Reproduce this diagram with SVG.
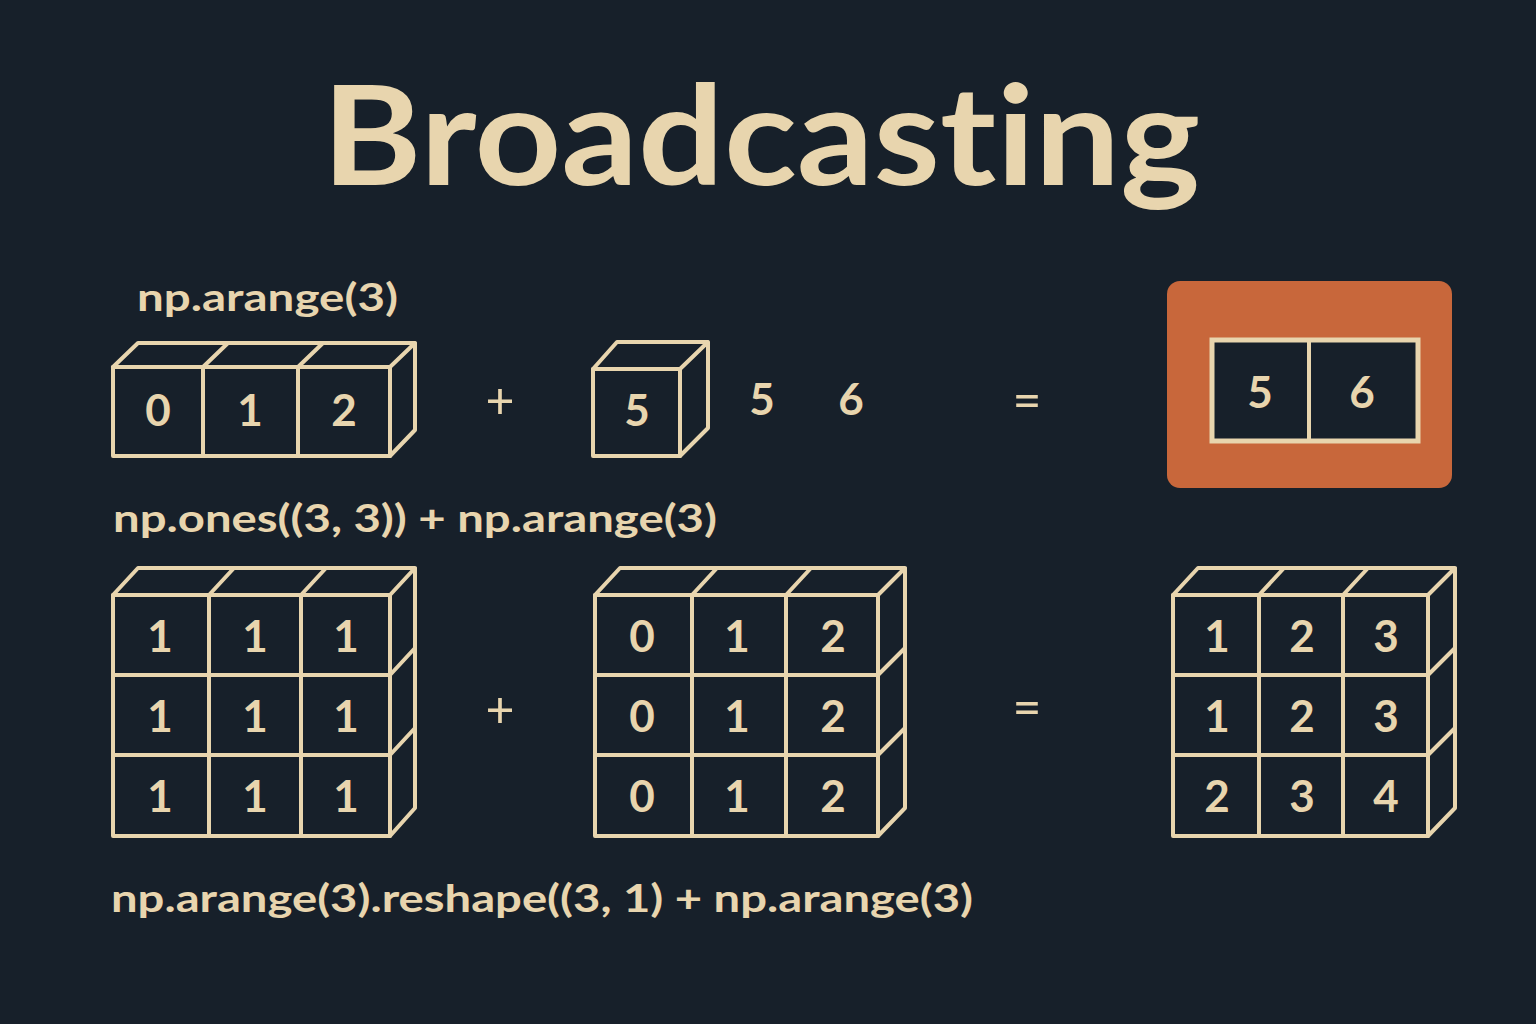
<svg xmlns="http://www.w3.org/2000/svg" width="1536" height="1024" viewBox="0 0 1536 1024">
<style>
.bg{fill:#17202a}
.ln{fill:none;stroke:#e8d5ae;stroke-width:4;stroke-linejoin:round;stroke-linecap:round}
.face{fill:#17202a;stroke:#e8d5ae;stroke-width:4;stroke-linejoin:round}
.t{font-family:Lato,"Open Sans","Liberation Sans",sans-serif;fill:#e8d5ae;font-variant-ligatures:none}
.d{font-family:Lato,"Open Sans","Liberation Sans",sans-serif;fill:#e8d5ae;font-size:44px;font-weight:700;text-anchor:middle}
.lbl{font-family:Lato,"Open Sans","Liberation Sans",sans-serif;fill:#e8d5ae;font-size:38px;font-weight:700}
.op{font-family:Lato,"Open Sans","Liberation Sans",sans-serif;fill:#e8d5ae;font-size:50px;font-weight:400;text-anchor:middle}
</style>
<rect class="bg" x="0" y="0" width="1536" height="1024"/>
<text class="t" x="761" y="185" font-size="138" font-weight="700" text-anchor="middle" textLength="878" lengthAdjust="spacingAndGlyphs">Broadcasting</text>

<g id="label-arange"><text class="lbl" x="137" y="311" textLength="261" lengthAdjust="spacingAndGlyphs">np.arange(3)</text></g>
<g id="label-ones"><text class="lbl" x="113" y="532" textLength="604" lengthAdjust="spacingAndGlyphs">np.ones((3, 3)) + np.arange(3)</text></g>
<g id="label-reshape"><text class="lbl" x="111" y="912" textLength="862" lengthAdjust="spacingAndGlyphs">np.arange(3).reshape((3, 1) + np.arange(3)</text></g>

<!-- Row 1: arange(3) -->
<g id="arr-012">
<path class="ln" d="M113,367 L138,343 L415,343 L415,430 L390,456 M390,367 L415,343 M203,367 L228,343 M298,367 L323,343"/>
<rect class="face" x="113" y="367" width="277" height="89"/>
<path class="ln" d="M203,367 V456 M298,367 V456"/>
<text class="d" x="158" y="426">0</text>
<text class="d" x="250" y="426">1</text>
<text class="d" x="344" y="426">2</text>
</g>

<g id="op-plus-1"><text class="op" x="500" y="418">+</text></g>

<g id="cube-5">
<path class="ln" d="M593,369 L617,342 L708,342 L708,428 L680,456 M680,369 L708,342"/>
<rect class="face" x="593" y="369" width="87" height="87"/>
<text class="d" x="637" y="426">5</text>
</g>

<g id="txt-5-6">
<text class="d" x="762" y="415">5</text>
<text class="d" x="851" y="415">6</text>
</g>

<g id="op-eq-1"><text class="op" x="1027" y="418">=</text></g>

<g id="result-56">
<rect x="1167" y="281" width="285" height="207" rx="13" fill="#c8673b"/>
<rect x="1212" y="340" width="206" height="101" fill="#17202a" stroke="#e8d5ae" stroke-width="5"/>
<line x1="1309" y1="340" x2="1309" y2="441" stroke="#e8d5ae" stroke-width="4"/>
<text class="d" x="1260" y="408">5</text>
<text class="d" x="1362" y="408">6</text>
</g>

<!-- Row 2 -->
<g id="grid-ones">
<path class="ln" d="M113,595 L138,568 L415,568 L415,808 L390,836 M390,595 L415,568 M209,595 L234,568 M301,595 L326,568 M390,675 L415,648 M390,755 L415,728"/>
<rect class="face" x="113" y="595" width="277" height="241"/>
<path class="ln" d="M209,595 V836 M301,595 V836 M113,675 H390 M113,755 H390"/>
<text class="d" x="160" y="652">1</text><text class="d" x="255" y="652">1</text><text class="d" x="346" y="652">1</text>
<text class="d" x="160" y="732">1</text><text class="d" x="255" y="732">1</text><text class="d" x="346" y="732">1</text>
<text class="d" x="160" y="812">1</text><text class="d" x="255" y="812">1</text><text class="d" x="346" y="812">1</text>
</g>

<g id="op-plus-2"><text class="op" x="500" y="727">+</text></g>

<g id="grid-arange">
<path class="ln" d="M595,595 L620,568 L905,568 L905,808 L878,836 M878,595 L905,568 M692,595 L717,568 M786,595 L811,568 M878,675 L905,648 M878,755 L905,728"/>
<rect class="face" x="595" y="595" width="283" height="241"/>
<path class="ln" d="M692,595 V836 M786,595 V836 M595,675 H878 M595,755 H878"/>
<text class="d" x="642" y="652">0</text><text class="d" x="737" y="652">1</text><text class="d" x="833" y="652">2</text>
<text class="d" x="642" y="732">0</text><text class="d" x="737" y="732">1</text><text class="d" x="833" y="732">2</text>
<text class="d" x="642" y="812">0</text><text class="d" x="737" y="812">1</text><text class="d" x="833" y="812">2</text>
</g>

<g id="op-eq-2"><text class="op" x="1027" y="725">=</text></g>

<g id="grid-result">
<path class="ln" d="M1173,595 L1198,568 L1455,568 L1455,808 L1428,836 M1428,595 L1455,568 M1259,595 L1284,568 M1343,595 L1368,568 M1428,675 L1455,648 M1428,755 L1455,728"/>
<rect class="face" x="1173" y="595" width="255" height="241"/>
<path class="ln" d="M1259,595 V836 M1343,595 V836 M1173,675 H1428 M1173,755 H1428"/>
<text class="d" x="1217" y="652">1</text><text class="d" x="1302" y="652">2</text><text class="d" x="1386" y="652">3</text>
<text class="d" x="1217" y="732">1</text><text class="d" x="1302" y="732">2</text><text class="d" x="1386" y="732">3</text>
<text class="d" x="1217" y="812">2</text><text class="d" x="1302" y="812">3</text><text class="d" x="1386" y="812">4</text>
</g>
<g id="connectors"></g>
</svg>
